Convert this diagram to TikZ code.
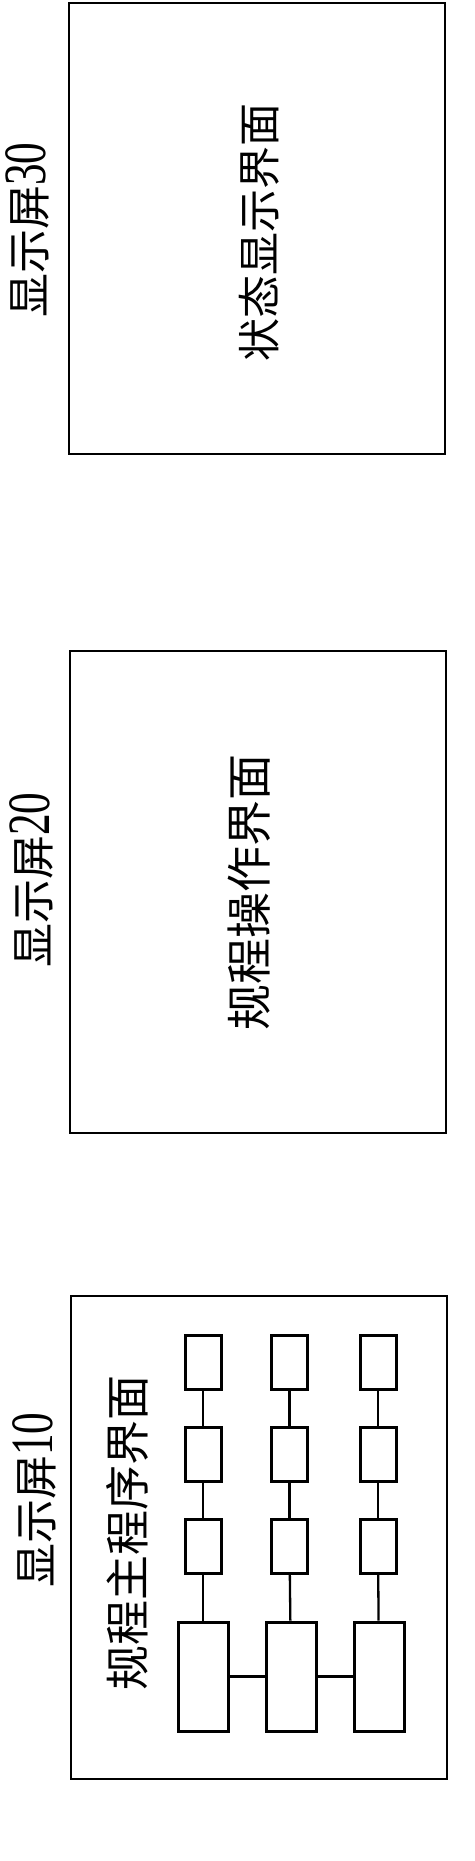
\documentclass[tikz,border=0pt]{standalone}
\usepackage{fontspec}
\setmainfont{Liberation Serif}
\newfontfamily\cjk{Noto Sans CJK SC}
\newfontfamily\numf[FakeStretch=0.72]{Liberation Serif}
\begin{document}
\begin{tikzpicture}[x=1pt,y=-1pt,
  screen/.style={draw, line width=2.7pt, inner sep=0pt, minimum width=376pt},
  smallbox/.style={draw, line width=3pt, inner sep=0pt, minimum width=36pt, minimum height=54pt},
  bigbox/.style={draw, line width=3pt, inner sep=0pt, minimum width=50pt, minimum height=109pt},
  link/.style={line width=2.3pt},
  lbl/.style={rotate=90, inner sep=0pt},
  inner/.style={rotate=90, inner sep=0pt}]
\useasboundingbox (0,0) rectangle (474,1861);

% screens
\node[screen, minimum height=451pt] (s30) at (257,228.5) {};
\node[screen, minimum height=482pt] (s20) at (258,892) {};
\node[screen, minimum height=483pt] (s10) at (259,1537.5) {};

% labels
\node[lbl] (l30) at (27,230) {\cjk\fontsize{44}{44}\selectfont 显示屏\numf\fontsize{60}{60}\selectfont 30};
\node[lbl] (l20) at (31,880) {\cjk\fontsize{44}{44}\selectfont 显示屏\numf\fontsize{60}{60}\selectfont 20};
\node[lbl] (l10) at (34,1500) {\cjk\fontsize{44}{44}\selectfont 显示屏\numf\fontsize{60}{60}\selectfont 10};

% inner texts
\node[inner] (t30) at (259,232) {\cjk\fontsize{43}{43}\selectfont 状态显示界面};
\node[inner] (t20) at (249,892) {\cjk\fontsize{46}{46}\selectfont 规程操作界面};
\node[inner] (t10) at (127,1533) {\cjk\fontsize{45}{45}\selectfont 规程主程序界面};

% program blocks
\foreach \c/\x/\bx in {1/203/203, 2/289.5/291, 3/378/379} {
  \node[smallbox] (a\c) at (\x,1362) {};
  \node[smallbox] (b\c) at (\x,1454) {};
  \node[smallbox] (c\c) at (\x,1546) {};
  \node[bigbox] (g\c) at (\bx,1676.5) {};
  \draw[link] (a\c) -- (b\c);
  \draw[link] (b\c) -- (c\c);
  \draw[link] (c\c) -- (g\c);
}
\draw[link] (g1) -- (g2);
\draw[link] (g2) -- (g3);
\end{tikzpicture}
\end{document}
